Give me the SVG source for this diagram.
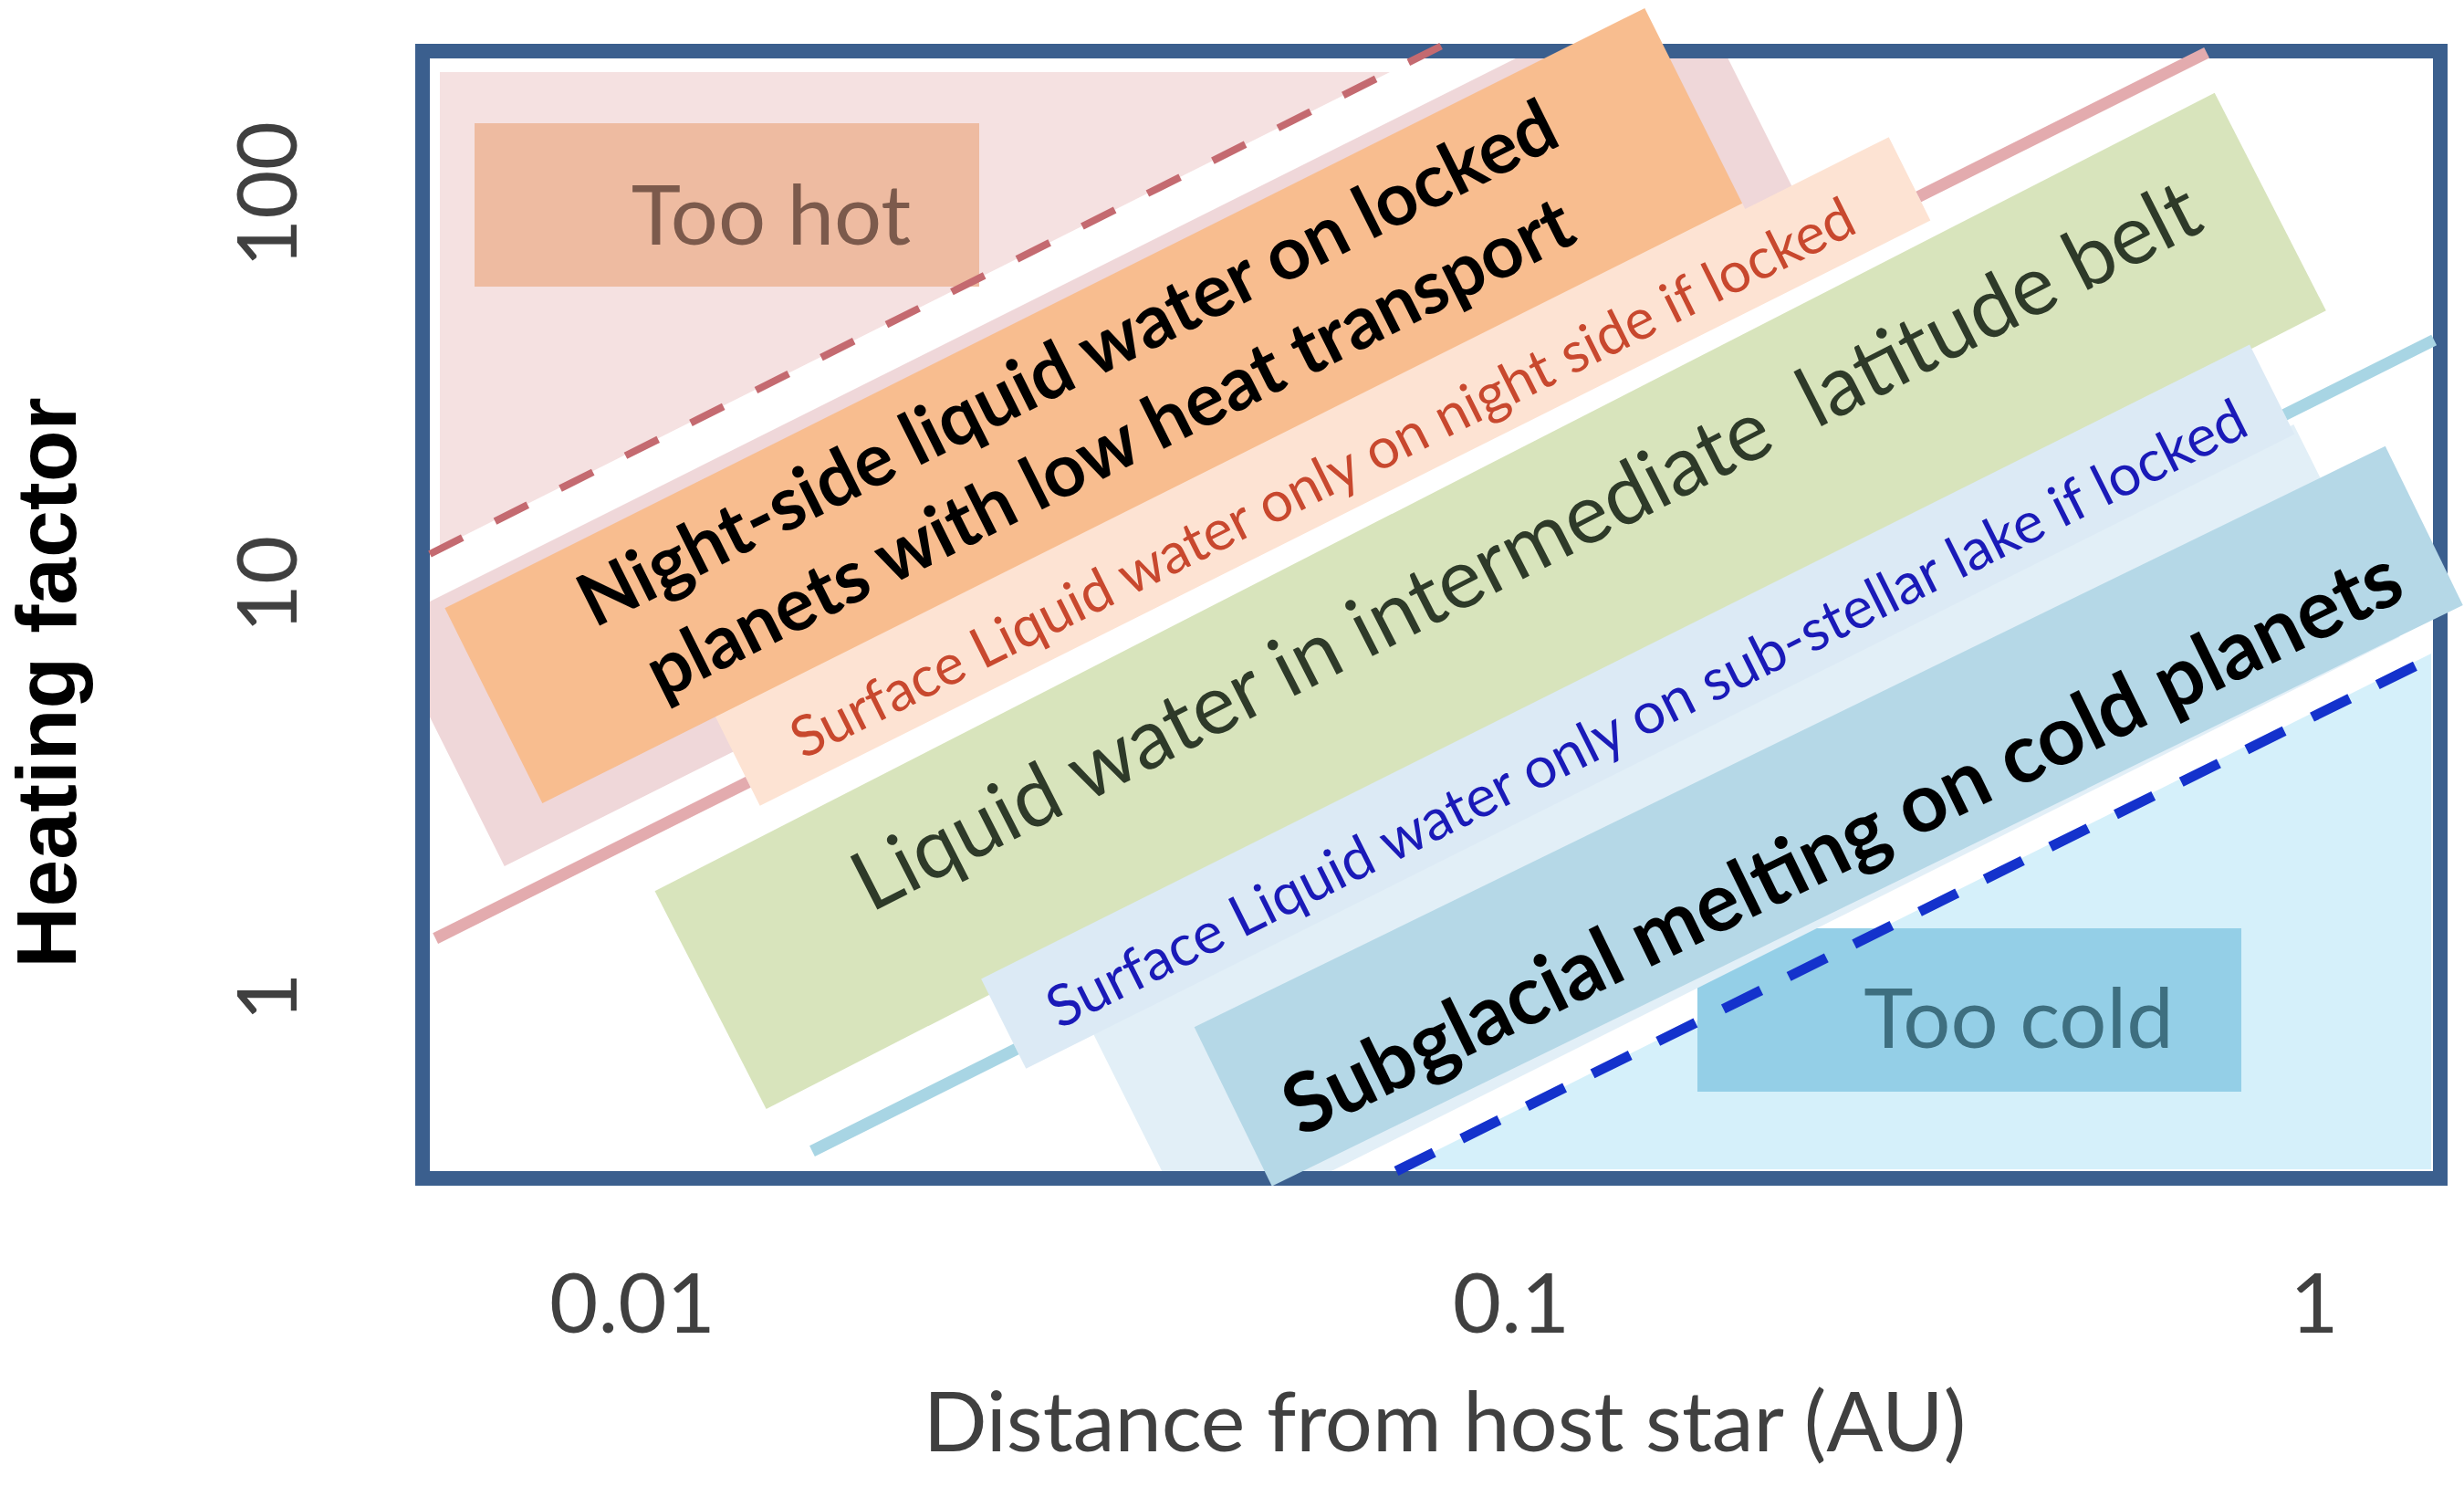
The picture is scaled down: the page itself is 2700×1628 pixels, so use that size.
<svg xmlns="http://www.w3.org/2000/svg" width="2700" height="1628" viewBox="0 0 2700 1628">
<defs>
<clipPath id="plotClip"><rect x="471" y="64" width="2195" height="1219"/></clipPath>
<style>
.sans{font-family:Lato,"Open Sans","Liberation Sans",sans-serif;}
.tick{font-family:Lato,"Open Sans","Liberation Sans",sans-serif;font-size:92px;fill:#404040;text-anchor:middle;}
.band-title{font-family:Lato,"Open Sans","Liberation Sans",sans-serif;font-weight:700;fill:#000000;text-anchor:middle;}
.band-note{font-family:Lato,"Open Sans","Liberation Sans",sans-serif;text-anchor:middle;}
.solid{fill:none;stroke-width:13;stroke-linecap:butt;}
.dash{fill:none;stroke-linecap:butt;}
</style>
</defs>
<rect width="2700" height="1628" fill="#ffffff"/>
<g id="plot-frame"><rect x="463" y="56" width="2211" height="1235" fill="#ffffff" stroke="#3B5F8E" stroke-width="16"/></g>
<g id="too-hot-region"><polygon points="482,79 1523,79 482,600" fill="#F5E1E1"/></g>
<g id="too-cold-region"><polygon points="1533,1281 2664,716 2664,1281" fill="#D5F0FA"/></g>
<g id="too-hot">
<rect x="520" y="135" width="553" height="179" fill="#EEBBA1"/>
<text class="sans" x="845" y="268" font-size="92" fill="#7C5A4C" text-anchor="middle">Too hot</text>
</g>
<g id="too-cold">
<rect x="1860" y="1017" width="596" height="179" fill="#94CFE7"/>
<text class="sans" x="2212" y="1148" font-size="92" fill="#3E6F80" text-anchor="middle">Too cold</text>
</g>
<g id="pink-backdrop" clip-path="url(#plotClip)">
<rect x="70" y="800" width="1595" height="296" fill="#EFD7D9" transform="rotate(-26.565)"/>
</g>
<g id="night-side-surface" transform="rotate(-26.565)">
<polygon points="350,1050 1608,1050 1608,1060 1784,1060 1784,1162 350,1162" fill="#FDE3D3"/>
<text class="band-note" x="1062" y="1138" font-size="62" fill="#C8482E">Surface Liquid water only on night side if locked</text>
</g>
<g id="night-side-locked" transform="rotate(-26.565)">
<rect x="138" y="814" width="1470" height="239" fill="#F8BD8F"/>
<text class="band-title" x="868" y="907" font-size="81">Night-side liquid water on locked</text>
<text class="band-title" x="868" y="1010" font-size="81">planets with low heat transport</text>
</g>
<g id="intermediate-belt" transform="rotate(-27.1)">
<rect x="194" y="1196" width="1920" height="268" fill="#D8E4BC"/>
<text class="sans" x="1216" y="1325" font-size="91" fill="#2E3A29" text-anchor="middle" xml:space="preserve">Liquid water in intermediate  latitude belt</text>
</g>
<g id="sub-stellar-backdrop" clip-path="url(#plotClip)">
<rect x="565" y="1540" width="1475" height="260" fill="#E2EFF7" transform="rotate(-26.565)"/>
</g>
<g id="sub-stellar-lake" transform="rotate(-26.565)">
<rect x="482" y="1440" width="1554" height="110" fill="#DCEAF5"/>
<text class="band-note" x="1264" y="1528" font-size="63" fill="#1A1AB8">Surface Liquid water only on sub-stellar lake if locked</text>
</g>
<g id="subglacial" transform="rotate(-26)">
<rect x="683" y="1585" width="1452" height="194" fill="#B5D8E7"/>
<text class="band-title" x="1410" y="1745" font-size="90">Subglacial melting on cold planets</text>
</g>
<g id="connectors">
<g transform="rotate(-26.565)">
<line class="solid" x1="-33" y1="1133" x2="350" y2="1133" stroke="#E3ABAE"/>
<line class="solid" x1="1784" y1="1133" x2="2137" y2="1133" stroke="#E3ABAE"/>
<line class="solid" x1="232" y1="1526" x2="482" y2="1526" stroke="#A8D5E4"/>
<line class="solid" x1="2036" y1="1526" x2="2219" y2="1526" stroke="#A8D5E4"/>
</g>
<line class="dash" x1="471" y1="607" x2="1588" y2="46" stroke="#C46A70" stroke-width="8" stroke-dasharray="40 40"/>
<line class="dash" x1="1530" y1="1283" x2="2656" y2="725" stroke="#1432CC" stroke-width="11" stroke-dasharray="46 34"/>
</g>
<g id="y-axis">
<text class="tick" transform="translate(325,213) rotate(-90)">100</text>
<text class="tick" transform="translate(325,640) rotate(-90)">10</text>
<text class="tick" transform="translate(325,1092) rotate(-90)">1</text>
<text transform="translate(83,748) rotate(-90)" font-family="'Liberation Sans',Arial,sans-serif" font-weight="700" font-size="93" text-anchor="middle" fill="#000000">Heating factor</text>
</g>
<g id="x-axis">
<text class="tick" x="693" y="1460">0.01</text>
<text class="tick" x="1656" y="1460">0.1</text>
<text class="tick" x="2536" y="1460">1</text>
<text class="sans" x="1583" y="1590" font-size="92" fill="#404040" text-anchor="middle">Distance from host star (AU)</text>
</g>
</svg>
